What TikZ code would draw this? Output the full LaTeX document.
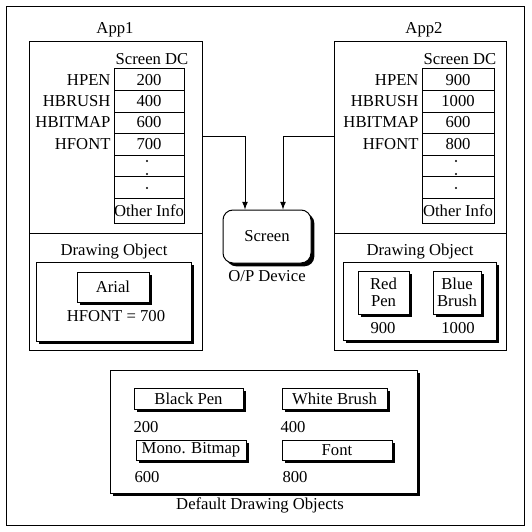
\documentclass[tikz,border=0pt]{standalone}
\usepackage{fontspec}
\setmainfont{Liberation Serif}
\usetikzlibrary{fit,shadows}

\begin{document}
\begin{tikzpicture}[x=0.6pt, y=-0.6pt, line width=0.6pt,
  box/.style={draw, inner sep=0pt},
  shbox/.style={draw, fill=white, inner sep=0pt,
    drop shadow={fill=black, opacity=1, shadow xshift=2pt, shadow yshift=-2pt}},
  lbl/.style={inner sep=0pt, align=center}]
\useasboundingbox (0,0) rectangle (532,532);
\node[box, fit={(6,7) (524,525)}] (frame) {};

% App1
\node[lbl] (app1lbl) at (115,30) {App1};
\node[box, fit={(29,42) (202,233)}] (app1) {};
\node[box, fit={(29,233) (202,350)}] (app1obj) {};
\node[lbl] (dc1lbl) at (152,59) {Screen DC};
\foreach \r/\yt/\yb/\val in {1/69/91/200, 2/91/112/400, 3/112/133/600, 4/133/155/700,
    5/155/176/{}, 6/176/198/{}, 7/198/223/{Other Info}} {
  \node[box, fit={(114,\yt) (184,\yb)}] (a1r\r) {};
  \node[lbl] (a1v\r) at (a1r\r.center) {\val};
}
\foreach \r/\h in {1/HPEN, 2/HBRUSH, 3/HBITMAP, 4/HFONT}
  \node[lbl, anchor=east] (a1h\r) at ([xshift=-1.5pt]a1r\r.west) {\h};
\foreach \y in {161,174,188}
  \fill (147,\y) circle (0.7pt);

\node[lbl] (do1lbl) at (114,252) {Drawing Object};
\node[shbox, fit={(36,262) (191,341)}] (do1) {};
\node[shbox, fit={(77,272) (149,302)}] (arial) {};
\node[lbl] (arialtxt) at (arial.center) {Arial};
\node[lbl] (hf1) at (116,316) {HFONT = 700};

% App2
\node[lbl] (app2lbl) at (424,30) {App2};
\node[box, fit={(334,42) (506,233)}] (app2) {};
\node[box, fit={(334,233) (506,350)}] (app2obj) {};
\node[lbl] (dc2lbl) at (460,59) {Screen DC};
\foreach \r/\yt/\yb/\val in {1/69/91/900, 2/91/112/1000, 3/112/133/600, 4/133/155/800,
    5/155/176/{}, 6/176/198/{}, 7/198/223/{Other Info}} {
  \node[box, fit={(422,\yt) (494,\yb)}] (a2r\r) {};
  \node[lbl] (a2v\r) at (a2r\r.center) {\val};
}
\foreach \r/\h in {1/HPEN, 2/HBRUSH, 3/HBITMAP, 4/HFONT}
  \node[lbl, anchor=east] (a2h\r) at ([xshift=-1.5pt]a2r\r.west) {\h};
\foreach \y in {161,174,188}
  \fill (456,\y) circle (0.7pt);

\node[lbl] (do2lbl) at (420,252) {Drawing Object};
\node[shbox, fit={(343,262) (496,340)}] (do2) {};
\node[shbox, fit={(358,271) (409,314)}] (redpen) {};
\node[lbl] (redpentxt) at (redpen.center) {Red\\[-2pt]Pen};
\node[shbox, fit={(433,271) (481,314)}] (bluebr) {};
\node[lbl] (bluebrtxt) at (bluebr.center) {Blue\\[-2pt]Brush};
\node[lbl] (v900) at (383,328) {900};
\node[lbl] (v1000) at (458,328) {1000};

% Screen
\node[shbox, rounded corners=6pt, fit={(223,210) (311,263)}] (scr) {};
\node[lbl] (scrtxt) at (scr.center) {Screen};
\node[lbl] (opdev) at (267,276) {O/P Device};
\coordinate (a1out) at (202,136);
\coordinate (a2out) at (334,136);
\draw[-latex] (a1out) -| ([xshift=-13.2pt]scr.north);
\draw[-latex] (a2out) -| ([xshift=9.6pt]scr.north);

% default objects
\node[shbox, fit={(110,370) (417,493)}] (defobj) {};
\foreach \n/\xa/\ya/\xb/\yb/\t in {blackpen/134/388/243/409/{Black Pen},
    whitebr/282/388/387/409/{White Brush}, monobmp/136/440/246/460/{Mono. Bitmap},
    font/282/440/392/460/{Font}} {
  \node[shbox, fit={(\xa,\ya) (\xb,\yb)}] (\n) {};
  \node[lbl] (\n txt) at (\n.center) {\t};
}
\node[lbl, anchor=west] (d200) at (133,427) {200};
\node[lbl, anchor=west] (d400) at (280,427) {400};
\node[lbl, anchor=west] (d600) at (134,477) {600};
\node[lbl, anchor=west] (d800) at (282,477) {800};
\node[lbl] (deflbl) at (260,505) {Default Drawing Objects};
\end{tikzpicture}
\end{document}
